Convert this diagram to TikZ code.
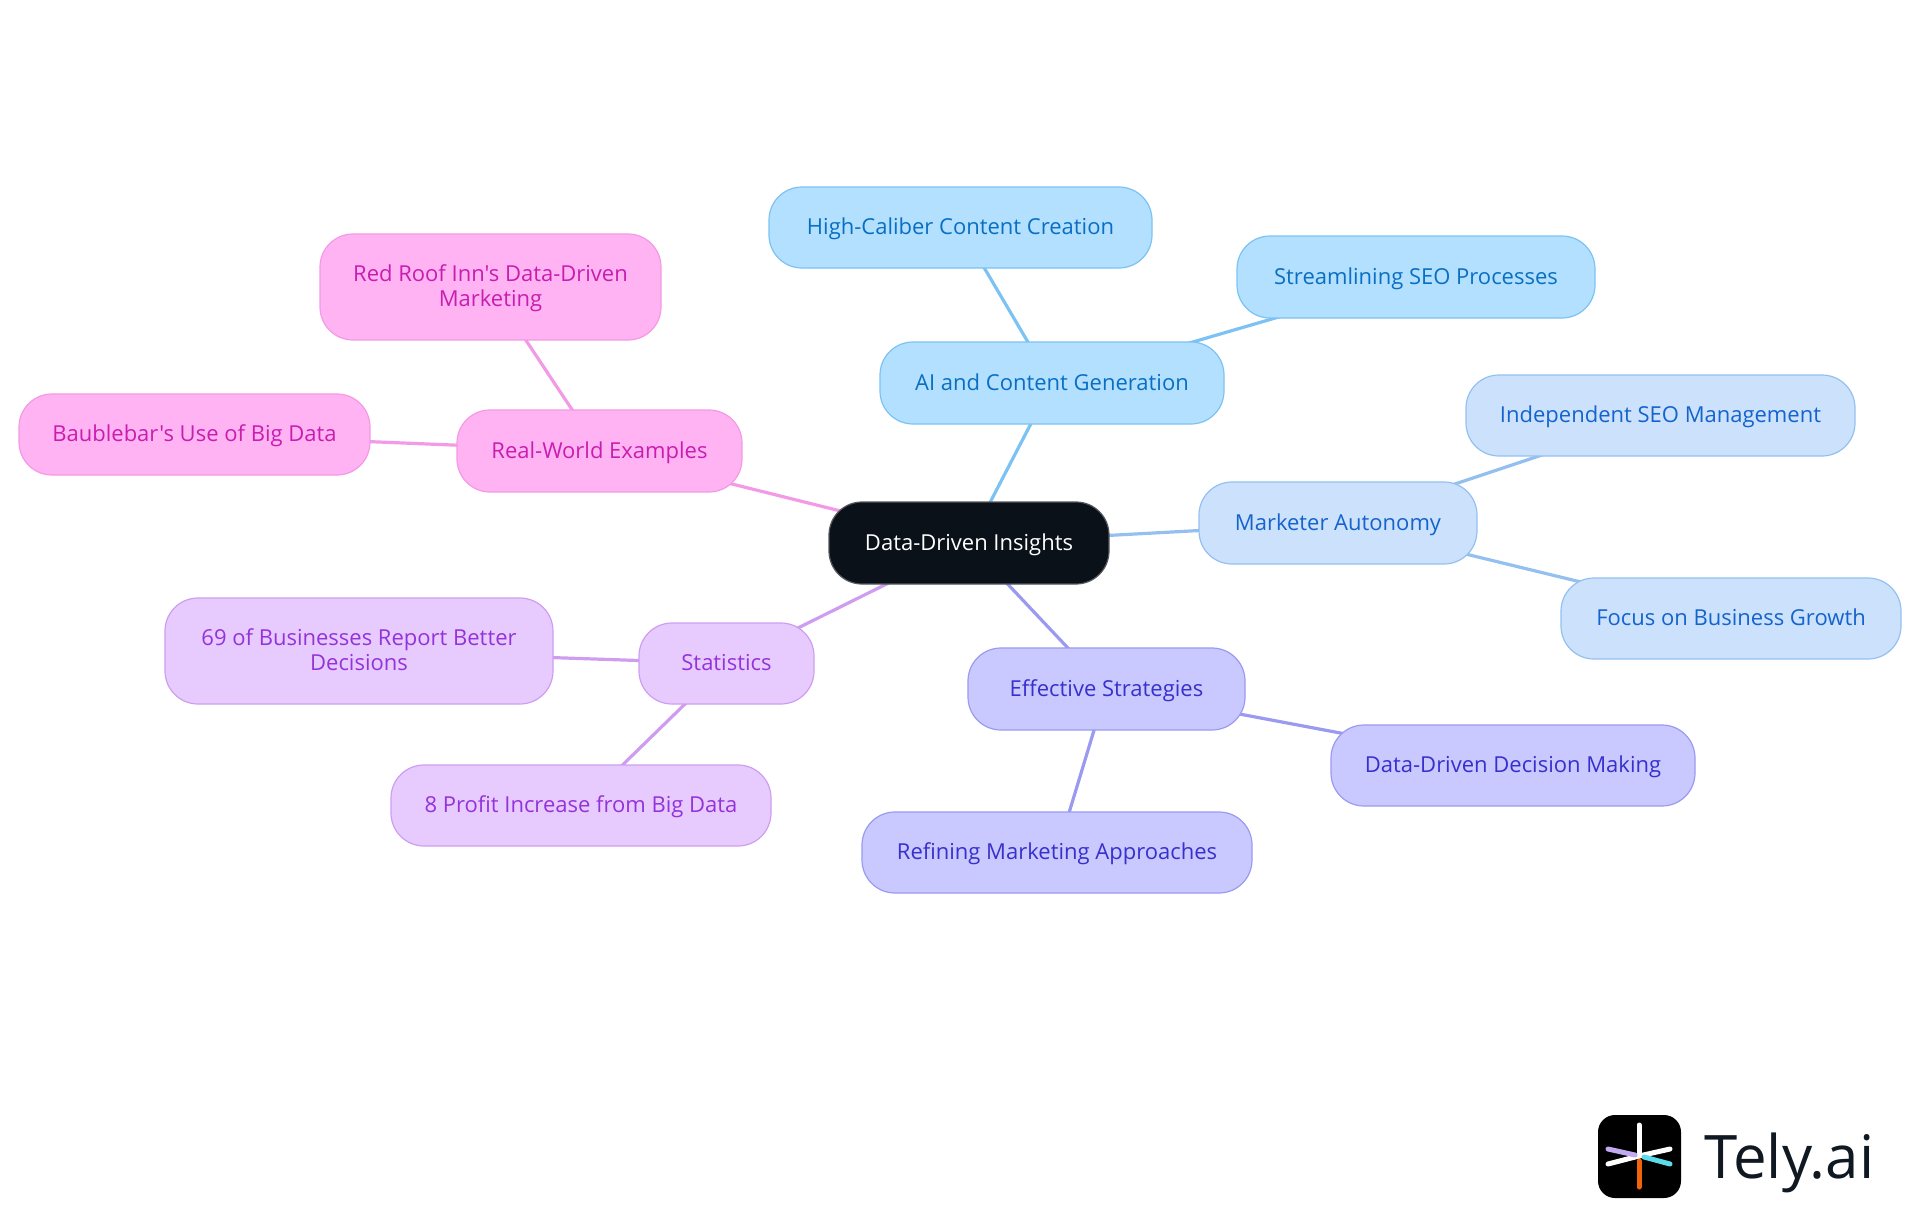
\documentclass[tikz,border=0pt]{standalone}
\usepackage{fontspec}
\setmainfont{Open Sans}[Ligatures=TeXOff]
\usetikzlibrary{backgrounds}
\definecolor{rootfill}{HTML}{0B1119}\definecolor{rootline}{HTML}{55595E}
\definecolor{aifill}{HTML}{B3E0FF}\definecolor{ailine}{HTML}{7CC2F2}\definecolor{aitext}{HTML}{0A6FC2}
\definecolor{mafill}{HTML}{CCE2FC}\definecolor{maline}{HTML}{94C0F0}\definecolor{matext}{HTML}{1563CC}
\definecolor{effill}{HTML}{C9C9FF}\definecolor{efline}{HTML}{9A9AF0}\definecolor{eftext}{HTML}{3730CC}
\definecolor{stfill}{HTML}{E8CBFE}\definecolor{stline}{HTML}{CF9DF0}\definecolor{sttext}{HTML}{9333D9}
\definecolor{refill}{HTML}{FFB3F3}\definecolor{reline}{HTML}{F29AE5}\definecolor{retext}{HTML}{C81EB0}
\definecolor{logoink}{HTML}{101822}
\definecolor{lilac}{HTML}{C1AAF0}\definecolor{aqua}{HTML}{5ADCEB}\definecolor{flame}{HTML}{F0640A}
\tikzset{
 x=1pt,y=-1pt,
 mm/.style={rectangle,rounded corners=33pt,line width=1.2pt,inner sep=0pt,align=center,
   font=\fontsize{22}{24.5}\selectfont},
 root/.style={mm,fill=rootfill,draw=rootline,text=white},
 ai/.style={mm,fill=aifill,draw=ailine,text=aitext},
 ma/.style={mm,fill=mafill,draw=maline,text=matext},
 ef/.style={mm,fill=effill,draw=efline,text=eftext},
 st/.style={mm,fill=stfill,draw=stline,text=sttext},
 re/.style={mm,fill=refill,draw=reline,text=retext},
 link/.style={line width=3.2pt},
 spoke/.style={line width=5pt,line cap=round},
}
\newcommand{\mmnode}[7]{% style,name,x0,x1,y0,y1,text
 \pgfmathsetmacro{\mmw}{#4-#3}\pgfmathsetmacro{\mmh}{#6-#5}
 \pgfmathsetmacro{\mmx}{(#3+#4)/2}\pgfmathsetmacro{\mmy}{(#5+#6)/2}
 \node[#1,minimum width=\mmw pt,minimum height=\mmh pt] (#2) at (\mmx,\mmy) {\rule{0pt}{20pt}#7\rule[-6pt]{0pt}{6pt}};}
\begin{document}
\begin{tikzpicture}
\useasboundingbox (0,0) rectangle (1920,1215);
\mmnode{root}{root}{829}{1109}{502}{584}{Data-Driven Insights}
\mmnode{ai}{ai}{880}{1224}{342}{424}{AI and Content Generation}
\mmnode{ai}{hc}{769}{1152}{187}{268}{High-Caliber Content Creation}
\mmnode{ai}{seo}{1237}{1595}{236}{318}{Streamlining SEO Processes}
\mmnode{ma}{ma}{1199}{1477}{482}{564}{Marketer Autonomy}
\mmnode{ma}{ind}{1466}{1855}{375}{456}{Independent SEO Management}
\mmnode{ma}{foc}{1561}{1901}{578}{659}{Focus on Business Growth}
\mmnode{ef}{ef}{968}{1245}{648}{730}{Effective Strategies}
\mmnode{ef}{ddd}{1331}{1695}{725}{806}{Data-Driven Decision Making}
\mmnode{ef}{ref}{862}{1252}{812}{893}{Refining Marketing Approaches}
\mmnode{st}{st}{639}{814}{623}{704}{Statistics}
\mmnode{st}{six}{165}{553}{598}{704}{69 of Businesses Report Better\\Decisions}
\mmnode{st}{pro}{391}{771}{765}{846}{8 Profit Increase from Big Data}
\mmnode{re}{re}{457}{742}{410}{492}{Real-World Examples}
\mmnode{re}{rri}{320}{661}{234}{340}{Red Roof Inn's Data-Driven\\Marketing}
\mmnode{re}{bau}{19}{370}{394}{475}{Baublebar's Use of Big Data}
\begin{pgfonlayer}{background}
\draw[link,ailine] (root.center)--(ai.center);
\draw[link,ailine] (ai.center)--(hc.center);
\draw[link,ailine] (ai.center)--(seo.center);
\draw[link,maline] (root.center)--(ma.center);
\draw[link,maline] (ma.center)--(ind.center);
\draw[link,maline] (ma.center)--(foc.center);
\draw[link,efline] (root.center)--(ef.center);
\draw[link,efline] (ef.center)--(ddd.center);
\draw[link,efline] (ef.center)--(ref.center);
\draw[link,stline] (root.center)--(st.center);
\draw[link,stline] (st.center)--(six.center);
\draw[link,stline] (st.center)--(pro.center);
\draw[link,reline] (root.center)--(re.center);
\draw[link,reline] (re.center)--(rri.center);
\draw[link,reline] (re.center)--(bau.center);
\end{pgfonlayer}
% logo
\fill[black,rounded corners=17pt] (1598,1115) rectangle (1681,1198);
\coordinate (hub) at (1639,1156);
\draw[spoke,white] (hub)--(1639,1125);
\draw[spoke,white] (hub)--(1670,1149);
\draw[spoke,white] (hub)--(1608,1164);
\draw[spoke,lilac] (1635,1155)--(1608,1149);
\draw[spoke,aqua] (1644,1157)--(1670,1164);
\draw[spoke,flame] (1639,1161)--(1639,1187);
\node[anchor=base west,inner sep=0pt,text=logoink,font=\fontsize{60}{60}\selectfont] (logo) at (1704,1178) {Tely.ai};
\end{tikzpicture}
\end{document}
